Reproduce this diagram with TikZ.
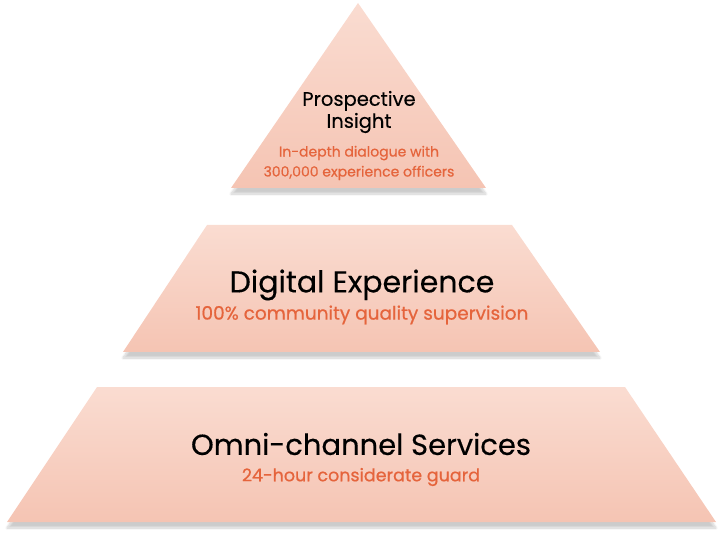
\documentclass[tikz,border=0pt]{standalone}
\usepackage{fontspec}
\setmainfont{Poppins}
\usepackage{xcolor}
\usetikzlibrary{shadows.blur}
\definecolor{peachtop}{HTML}{FADCD1}
\definecolor{peachbot}{HTML}{F5C4B3}
\definecolor{rust}{HTML}{E5643C}

\begin{document}
\begin{tikzpicture}[
  x=1pt,y=-1pt,
  tier/.style={top color=peachtop,bottom color=peachbot,draw=none,
    blur shadow={shadow xshift=0pt,shadow yshift=-6pt,shadow blur steps=12,shadow opacity=20}},
  head/.style={align=center,text=black,inner sep=0pt},
  sub/.style={align=center,text=rust,inner sep=0pt}
]
\useasboundingbox (0,0) rectangle (723,537);

% tiers, top to bottom
\path[tier] (358,3) -- (486,188) -- (231,188) -- cycle;
\path[tier] (207,225) -- (512,225) -- (600,352) -- (123,352) -- cycle;
\path[tier] (97,387) -- (625,387) -- (716,522) -- (7,522) -- cycle;

\node[head,font=\fontsize{19.5}{22}\selectfont\addfontfeature{FakeBold=0.3}] (insight) at (359,112) {Prospective\\Insight};
\node[sub,font=\fontsize{14}{20}\selectfont\addfontfeature{FakeBold=0.6}] (dialogue) at (359,163) {In-depth dialogue with\\300,000 experience officers};

\node[head,font=\fontsize{30}{32}\selectfont\addfontfeature{FakeBold=0.3}] (digital) at (362,285) {Digital Experience};
\node[sub,font=\fontsize{18.5}{20}\selectfont\addfontfeature{FakeBold=0.6}] (supervision) at (362,315) {100\% community quality supervision};

\node[head,font=\fontsize{29}{32}\selectfont\addfontfeature{FakeBold=0.3}] (omni) at (361,444) {Omni-channel Services};
\node[sub,font=\fontsize{17.5}{20}\selectfont\addfontfeature{FakeBold=0.6}] (guard) at (361,477) {24-hour considerate guard};
\end{tikzpicture}
\end{document}
